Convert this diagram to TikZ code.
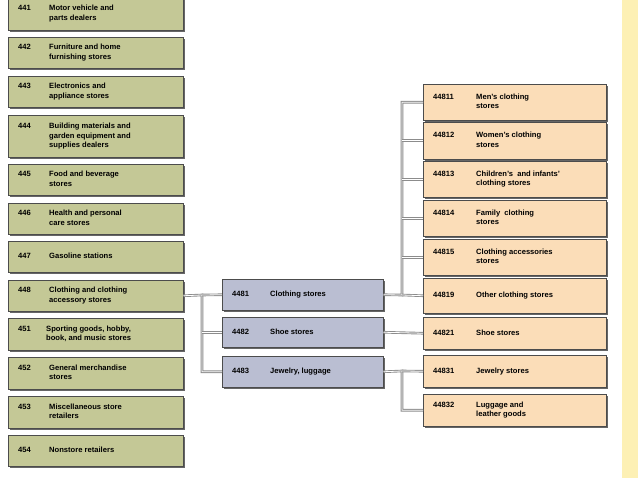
\documentclass[tikz,border=0pt]{standalone}
\usepackage{fontspec}
\setmainfont{Liberation Sans}
\usetikzlibrary{shadows}
\definecolor{cL}{RGB}{196,200,150}
\definecolor{cM}{RGB}{186,190,210}
\definecolor{cR}{RGB}{251,221,184}
\definecolor{cY}{RGB}{253,240,180}
\tikzset{
 box/.style={draw=black!70, line width=0.5pt, anchor=north west, inner sep=0pt,
   drop shadow={shadow xshift=2pt, shadow yshift=-2pt, fill=black!60, opacity=1},
   font=\bfseries\fontsize{7.6}{9.2}\selectfont},
 conn/.style={draw=black!45, double=white, double distance=0.8pt, line width=0.9pt}
}
\newcommand\mybox[8]{% name, x1,y1,x2,y2, fill, numwidth, text
 \node[box, fill=#6, minimum width=#4-#2, minimum height=#5-#3] (#1) at (#2,#3) {};
 \node[anchor=west, font=\bfseries\fontsize{7.6}{9.2}\selectfont, inner sep=0pt] at ([xshift=10pt]#1.west)
   {\begin{tabular}{@{}p{#7}@{}l@{}}#8\end{tabular}};
}
\begin{document}
\begin{tikzpicture}[x=1pt,y=-1pt]
\useasboundingbox (0,0) rectangle (638,478);
\fill[cY] (622,0) rectangle (638,478);
\mybox{b441}{8}{-3}{183}{30}{cL}{31pt}{441 & Motor vehicle and\\ & parts dealers}
\mybox{b442}{8}{37}{183}{68}{cL}{31pt}{442 & Furniture and home\\ & furnishing stores}
\mybox{b443}{8}{76}{183}{107}{cL}{31pt}{443 & Electronics and\\ & appliance stores}
\mybox{b444}{8}{115}{183}{157}{cL}{31pt}{444 & Building materials and\\ & garden equipment and\\ & supplies dealers}
\mybox{b445}{8}{164}{183}{195}{cL}{31pt}{445 & Food and beverage\\ & stores}
\mybox{b446}{8}{203}{183}{234}{cL}{31pt}{446 & Health and personal\\ & care stores}
\mybox{b447}{8}{241}{183}{272}{cL}{31pt}{447 & Gasoline stations}
\mybox{b448}{8}{280}{183}{311}{cL}{31pt}{448 & Clothing and clothing\\ & accessory stores}
\mybox{b451}{8}{318}{183}{350}{cL}{28pt}{451 & Sporting goods, hobby,\\ & book, and music stores}
\mybox{b452}{8}{357}{183}{389}{cL}{31pt}{452 & General merchandise\\ & stores}
\mybox{b453}{8}{396}{183}{428}{cL}{31pt}{453 & Miscellaneous store\\ & retailers}
\mybox{b454}{8}{435}{183}{466}{cL}{31pt}{454 & Nonstore retailers}
\mybox{m1}{222}{279}{383}{310}{cM}{38pt}{4481 & Clothing stores}
\mybox{m2}{222}{317}{383}{347}{cM}{38pt}{4482 & Shoe stores}
\mybox{m3}{222}{356}{383}{387}{cM}{38pt}{4483 & Jewelry, luggage}
\mybox{r1}{423}{84}{606}{120}{cR}{43pt}{44811 & Men's clothing\\ & stores}
\mybox{r2}{423}{122}{606}{159}{cR}{43pt}{44812 & Women's clothing\\ & stores}
\mybox{r3}{423}{161}{606}{197}{cR}{43pt}{44813 & Children's\ \ and infants'\\ & clothing stores}
\mybox{r4}{423}{200}{606}{236}{cR}{43pt}{44814 & Family\ \ clothing\\ & stores}
\mybox{r5}{423}{239}{606}{275}{cR}{43pt}{44815 & Clothing accessories\\ & stores}
\mybox{r6}{423}{278}{606}{313}{cR}{43pt}{44819 & Other clothing stores}
\mybox{r7}{423}{317}{606}{349}{cR}{43pt}{44821 & Shoe stores}
\mybox{r8}{423}{355}{606}{387}{cR}{43pt}{44831 & Jewelry stores}
\mybox{r9}{423}{394}{606}{426}{cR}{43pt}{44832 & Luggage and\\ & leather goods}
\coordinate (ja) at (202,295);
\coordinate (jb) at (402,295);
\coordinate (jc) at (402,371);
\path[conn] (b448.east) -- (ja) |- (m3.west);
\path[conn] (ja) -- (m1.west);
\path[conn] (ja |- m2.west) -- (m2.west);
\path[conn] (m1.east) -- (jb) |- (r1.west);
\path[conn] (jb) -- (r6.west);
\foreach \r in {r2,r3,r4,r5} \path[conn] (jb |- \r.west) -- (\r.west);
\path[conn] (m2.east) -- (r7.west);
\path[conn] (m3.east) -- (jc) |- (r9.west);
\path[conn] (jc) -- (r8.west);
\end{tikzpicture}
\end{document}
